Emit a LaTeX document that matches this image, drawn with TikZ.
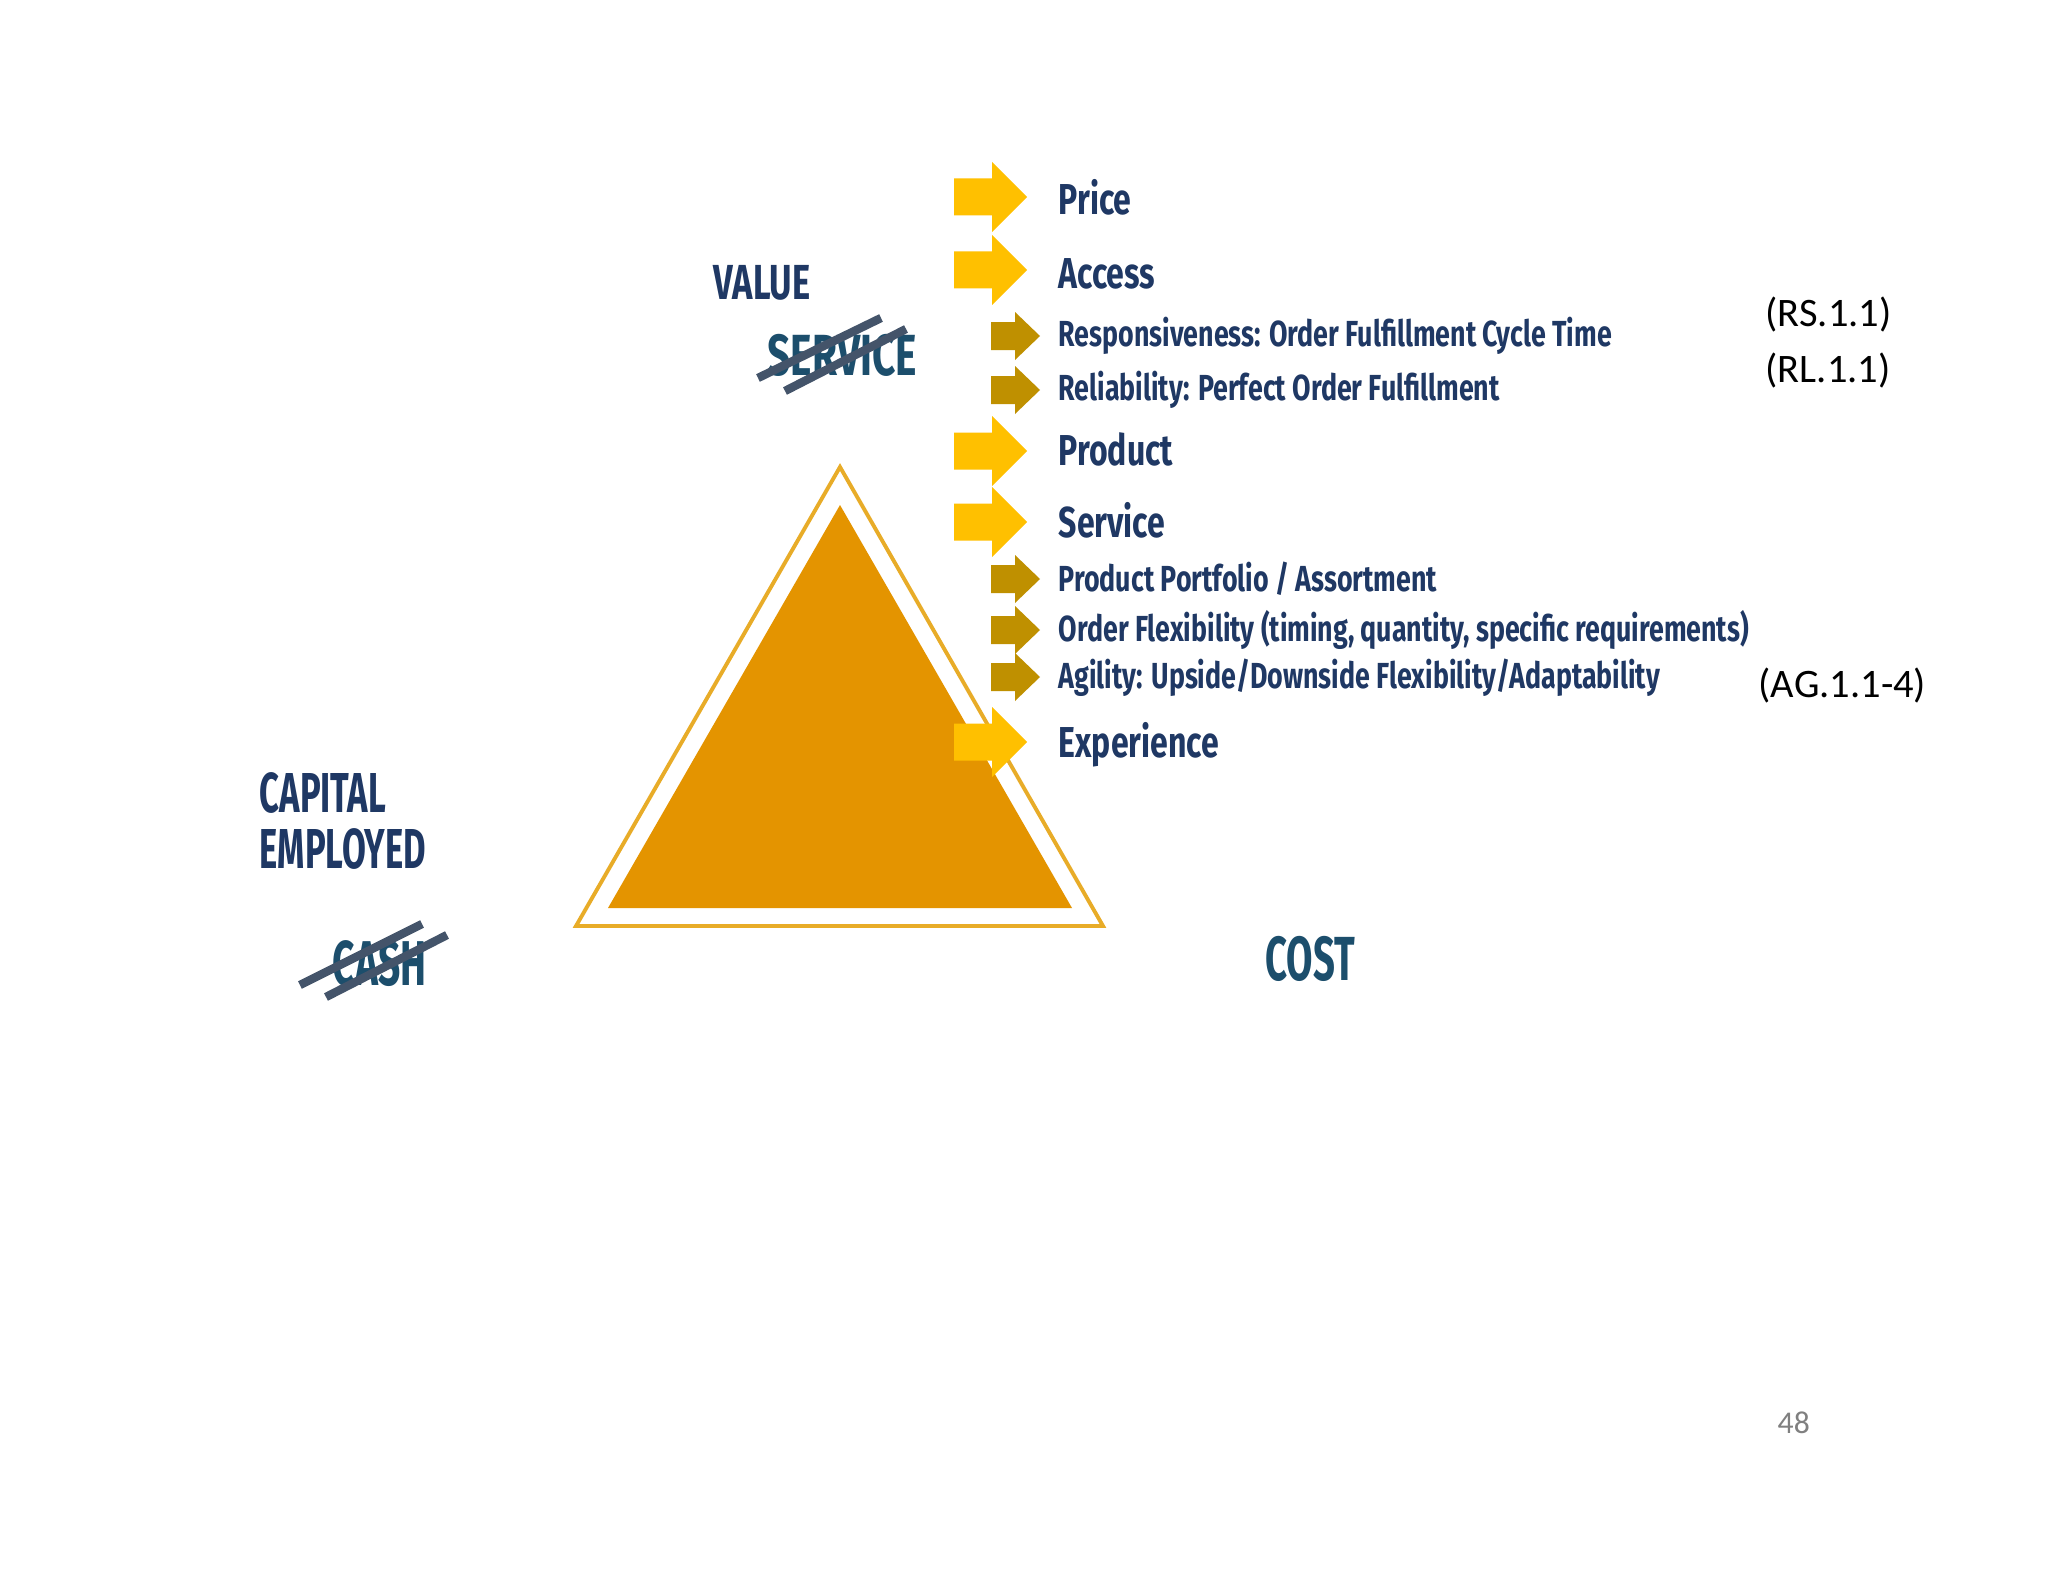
\documentclass[tikz,border=0pt]{standalone}
\usepackage{fontspec}
\newfontfamily\condA{Fira Sans}[FakeStretch=0.74]
\newfontfamily\condB{Fira Sans}[FakeStretch=0.70]
\newfontfamily\condC{Fira Sans}[FakeStretch=0.615]
\newfontfamily\calib{Carlito}
\definecolor{navy}{RGB}{31,56,100}
\definecolor{tealnavy}{RGB}{28,78,108}
\definecolor{strike}{RGB}{68,84,106}
\definecolor{bigarrow}{RGB}{255,192,0}
\definecolor{smallarrow}{RGB}{191,144,0}
\definecolor{triorange}{RGB}{228,148,0}
\definecolor{triedge}{RGB}{232,172,40}
\definecolor{pagegray}{RGB}{128,128,128}
\tikzset{
  biglabel/.style={anchor=base west, inner sep=0pt, text=navy, font=\condA\bfseries\fontsize{12.3}{13}\selectfont},
  smalllabel/.style={anchor=base west, inner sep=0pt, text=navy, font=\condA\bfseries\fontsize{10.3}{11}\selectfont},
  headwordB/.style={anchor=base west, inner sep=0pt, text=navy, font=\condB\bfseries\fontsize{#1}{#1}\selectfont},
  headwordC/.style={anchor=base west, inner sep=0pt, text=navy, font=\condC\bfseries\fontsize{#1}{#1}\selectfont},
  oldwordB/.style={anchor=base west, inner sep=0pt, text=tealnavy, font=\condB\bfseries\fontsize{#1}{#1}\selectfont},
  oldwordC/.style={anchor=base west, inner sep=0pt, text=tealnavy, font=\condC\bfseries\fontsize{#1}{#1}\selectfont},
  code/.style={anchor=base west, inner sep=0pt, text=black, font=\calib\fontsize{11.5}{12}\selectfont},
  strikeline/.style={draw=strike, line width=2.4pt},
  bigarr/.pic={\fill[bigarrow] (0,-18.5) -- (38,-18.5) -- (38,-35) -- (73,0) -- (38,35) -- (38,18.5) -- (0,18.5) -- cycle;},
  smallarr/.pic={\fill[smallarrow] (0,-14) -- (24,-14) -- (24,-24) -- (49,0) -- (24,24) -- (24,14) -- (0,14) -- cycle;}
}
\begin{document}
\begin{tikzpicture}[x=0.01cm,y=-0.01cm]
\useasboundingbox[fill=white] (0,0) rectangle (2048,1582);

% triangle
\coordinate (oa) at (840,467);
\coordinate (ol) at (576,926);
\coordinate (or) at (1103,926);
\coordinate (ia) at (840,505);
\coordinate (il) at (608,908);
\coordinate (ir) at (1072,908);
\filldraw[fill=white, draw=triedge, line width=1.1pt, line join=miter] (oa) -- (ol) -- (or) -- cycle;
\fill[triorange] (ia) -- (il) -- (ir) -- cycle;

% arrows
\pic at (954,197) {bigarr};
\pic at (954,270) {bigarr};
\pic at (991,336) {smallarr};
\pic at (991,390) {smallarr};
\pic at (954,451) {bigarr};
\pic at (954,522) {bigarr};
\pic at (991,579) {smallarr};
\pic at (991,630) {smallarr};
\pic at (991,677) {smallarr};
\pic at (954,742) {bigarr};

% list labels
\node[biglabel] (price) at (1058,215) {Price};
\node[biglabel] (access) at (1058,288) {Access};
\node[smalllabel] (resp) at (1058,347) {Responsiveness: Order Fulfillment Cycle Time};
\node[smalllabel] (reli) at (1058,400) {Reliability: Perfect Order Fulfillment};
\node[biglabel] (product) at (1058,465) {Product};
\node[biglabel] (service) at (1058,537) {Service};
\node[smalllabel] (portfolio) at (1058,591) {Product Portfolio / Assortment};
\node[smalllabel] (flex) at (1058,641) {Order Flexibility (timing, quantity, specific requirements)};
\node[smalllabel] (agility) at (1058,688) {Agility: Upside/Downside Flexibility/Adaptability};
\node[biglabel] (experience) at (1058,757) {Experience};

% codes
\node[code] (rs) at (1765,327) {(RS.1.1)};
\node[code] (rl) at (1765,383) {(RL.1.1)};
\node[code] (ag) at (1758,697) {(AG.1.1-4)};

% head words
\node[headwordB=14] (value) at (713,300) {VALUE};
\node[oldwordB=16.5] (oldservice) at (767,375) {SERVICE};
\draw[strikeline] (758,378) -- (881,318);
\draw[strikeline] (785,391) -- (906,329);

\node[headwordC=16] (capital) at (259,812) {CAPITAL};
\node[headwordC=16] (employed) at (259,868) {EMPLOYED};
\node[oldwordC=18] (cash) at (332,985) {CASH};
\draw[strikeline] (300,985) -- (422,924);
\draw[strikeline] (326,997) -- (447,935);

\node[oldwordC=17.7] (cost) at (1265,980) {COST};

\node[anchor=base west, inner sep=0pt, text=pagegray, font=\calib\fontsize{9}{10}\selectfont] (page) at (1777,1433) {48};
\end{tikzpicture}
\end{document}
